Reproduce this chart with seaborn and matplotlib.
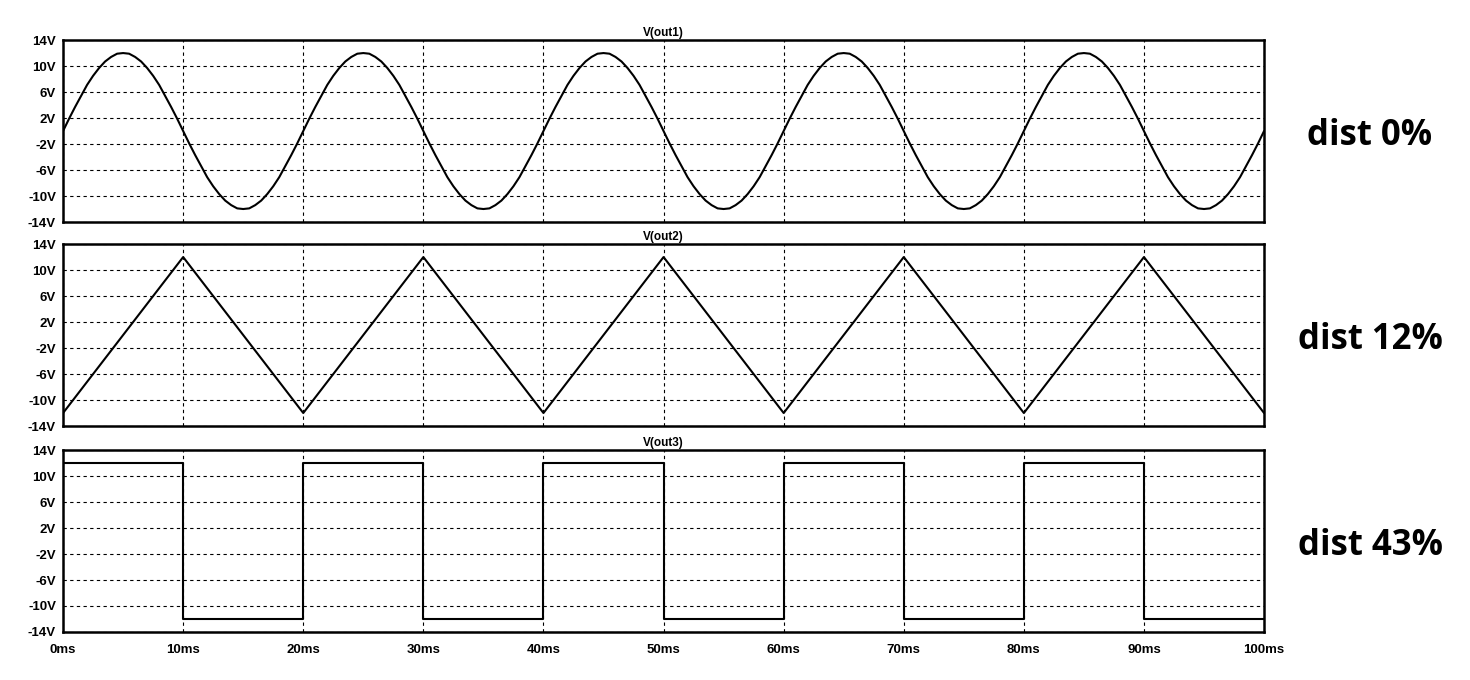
import numpy as np
import pandas as pd
import matplotlib
matplotlib.use("Agg")
import matplotlib.pyplot as plt
import seaborn as sns

# ---- data ----
# one cycle of V(out1), sampled every 0.5 ms (period 20 ms)
sine_cycle = [0.0, 1.9, 3.7, 5.4, 7.1, 8.5, 9.7, 10.7, 11.4, 11.9,
              12.0, 11.9, 11.4, 10.7, 9.7, 8.5, 7.1, 5.4, 3.7, 1.9,
              0.0, -1.9, -3.7, -5.4, -7.1, -8.5, -9.7, -10.7, -11.4, -11.9,
              -12.0, -11.9, -11.4, -10.7, -9.7, -8.5, -7.1, -5.4, -3.7, -1.9]
n_cycles = 5
sine_step = 0.5

# V(out2) corners
tri_t = [0, 10, 20, 30, 40, 50, 60, 70, 80, 90, 100]
tri_v = [-12, 12, -12, 12, -12, 12, -12, 12, -12, 12, -12]

# V(out3) levels (held until next time)
sq_t = [0, 10, 20, 30, 40, 50, 60, 70, 80, 90, 100]
sq_v = [12, -12, 12, -12, 12, -12, 12, -12, 12, -12, -12]

titles = ["V(out1)", "V(out2)", "V(out3)"]
labels = ["dist 0%", "dist 12%", "dist 43%"]
yticks = [-14, -10, -6, -2, 2, 6, 10, 14]
xticks = [0, 10, 20, 30, 40, 50, 60, 70, 80, 90, 100]

sine_v = list(np.tile(sine_cycle, n_cycles)) + [sine_cycle[0]]
sine_t = [i * sine_step for i in range(len(sine_v))]

df1 = pd.DataFrame({"t": sine_t, "v": sine_v})
df2 = pd.DataFrame({"t": tri_t, "v": tri_v})
df3 = pd.DataFrame({"t": sq_t, "v": sq_v})

sns.set_style("white")
plt.rcParams["font.family"] = ["Liberation Sans", "DejaVu Sans"]
plt.rcParams["text.color"] = "black"

fig = plt.figure(figsize=(14.7, 6.8), dpi=100)
left, width, height = 0.0429, 0.817, 0.2676
bottoms = [0.6735, 0.3735, 0.0706]

for i, (df, b) in enumerate(zip([df1, df2, df3], bottoms)):
    ax = fig.add_axes([left, b, width, height])
    kw = {"drawstyle": "steps-post"} if i == 2 else {}
    sns.lineplot(data=df, x="t", y="v", ax=ax, color="black",
                 linewidth=1.5, estimator=None, sort=False, **kw)
    ax.set_xlim(0, 100)
    ax.set_ylim(-14, 14)
    ax.set_yticks(yticks)
    ax.set_yticklabels([f"{v}V" for v in yticks])
    ax.set_xticks(xticks)
    if i == 2:
        ax.set_xticklabels([f"{v}ms" for v in xticks])
    else:
        ax.set_xticklabels([])
        ax.tick_params(axis="x", length=0)
    ax.set_xlabel("")
    ax.set_ylabel("")
    ax.grid(True, color="black", linestyle=(0, (3, 3)), linewidth=0.8)
    for s in ax.spines.values():
        s.set_linewidth(1.8)
        s.set_color("black")
    ax.tick_params(axis="both", direction="out", length=4, width=1.8,
                   labelsize=9.5, pad=1, colors="black")
    ax.tick_params(axis="x", pad=5)
    for lab in ax.get_yticklabels() + ax.get_xticklabels():
        lab.set_fontweight("bold")
    ax.set_title(titles[i], fontsize=8.5, fontweight="bold", pad=3,
                 color="black")
    fig.text(0.932, b + height / 2 - 0.008, labels[i], ha="center",
             va="center", fontsize=25, fontweight="bold", color="black",
             family=["Open Sans", "DejaVu Sans"])

fig.savefig("out.png", dpi=100)
